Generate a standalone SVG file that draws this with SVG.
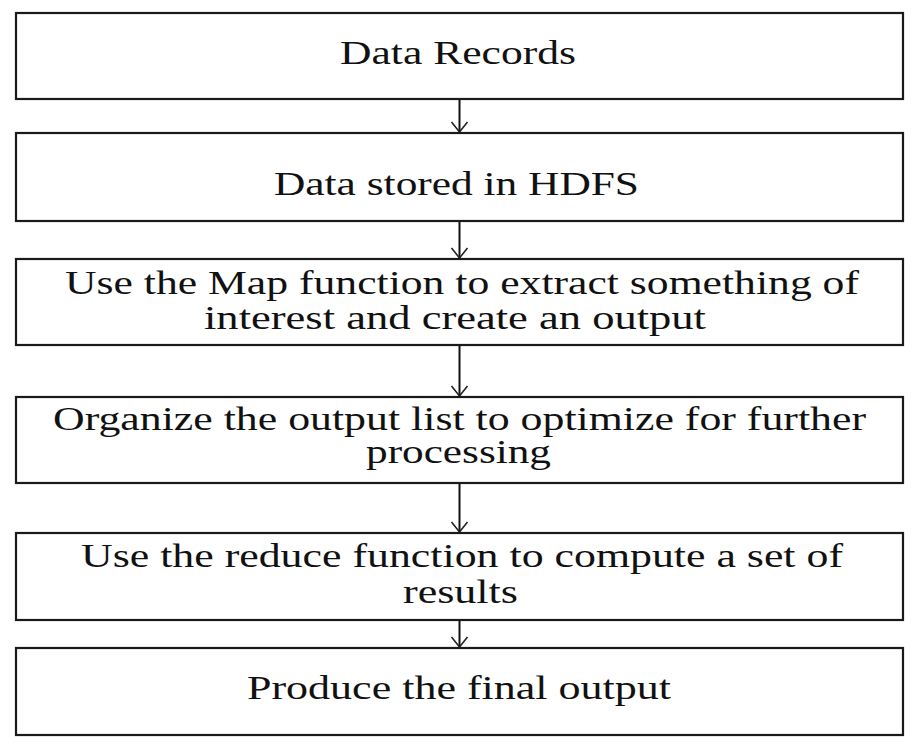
<svg xmlns="http://www.w3.org/2000/svg" width="923" height="750" viewBox="0 0 923 750">
<style>
.box{fill:#fff;stroke:#1a1a1a;stroke-width:2.2}
.t{font-family:"Liberation Serif","Times New Roman",serif;font-size:33px;fill:#111}
.c{stroke:#111;stroke-width:2;fill:none}
.ah{stroke:#222;stroke-width:1.6;fill:none}
</style>
<rect width="923" height="750" fill="#fff"/>
<g id="connectors">
<line class="c" x1="459.5" y1="99" x2="459.5" y2="132"/>
<polyline class="ah" points="451.5,122 459.5,132 467.5,122"/>
<line class="c" x1="459.5" y1="221" x2="459.5" y2="258"/>
<polyline class="ah" points="451.5,248 459.5,258 467.5,248"/>
<line class="c" x1="459.5" y1="345" x2="459.5" y2="396"/>
<polyline class="ah" points="451.5,386 459.5,396 467.5,386"/>
<line class="c" x1="459.5" y1="483" x2="459.5" y2="532"/>
<polyline class="ah" points="451.5,522 459.5,532 467.5,522"/>
<line class="c" x1="459.5" y1="620" x2="459.5" y2="647"/>
<polyline class="ah" points="451.5,637 459.5,647 467.5,637"/>
</g>
<g id="n1">
<rect class="box" x="16" y="13" width="887" height="86"/>
<text class="t" x="340" y="64" textLength="236" lengthAdjust="spacingAndGlyphs">Data Records</text>
</g>
<g id="n2">
<rect class="box" x="16" y="133" width="887" height="88"/>
<text class="t" x="274" y="195" textLength="365" lengthAdjust="spacingAndGlyphs">Data stored in HDFS</text>
</g>
<g id="n3">
<rect class="box" x="16" y="259" width="887" height="86"/>
<text class="t" x="65" y="294" textLength="794" lengthAdjust="spacingAndGlyphs">Use the Map function to extract something of</text>
<text class="t" x="204" y="329" textLength="502" lengthAdjust="spacingAndGlyphs">interest and create an output</text>
</g>
<g id="n4">
<rect class="box" x="16" y="397" width="887" height="86"/>
<text class="t" x="53" y="430" textLength="813" lengthAdjust="spacingAndGlyphs">Organize the output list to optimize for further</text>
<text class="t" x="366" y="463" textLength="185" lengthAdjust="spacingAndGlyphs">processing</text>
</g>
<g id="n5">
<rect class="box" x="16" y="533" width="887" height="87"/>
<text class="t" x="81" y="567" textLength="762" lengthAdjust="spacingAndGlyphs">Use the reduce function to compute a set of</text>
<text class="t" x="403" y="603" textLength="115" lengthAdjust="spacingAndGlyphs">results</text>
</g>
<g id="n6">
<rect class="box" x="16" y="648" width="887" height="87"/>
<text class="t" x="247" y="699" textLength="424" lengthAdjust="spacingAndGlyphs">Produce the final output</text>
</g>
</svg>
